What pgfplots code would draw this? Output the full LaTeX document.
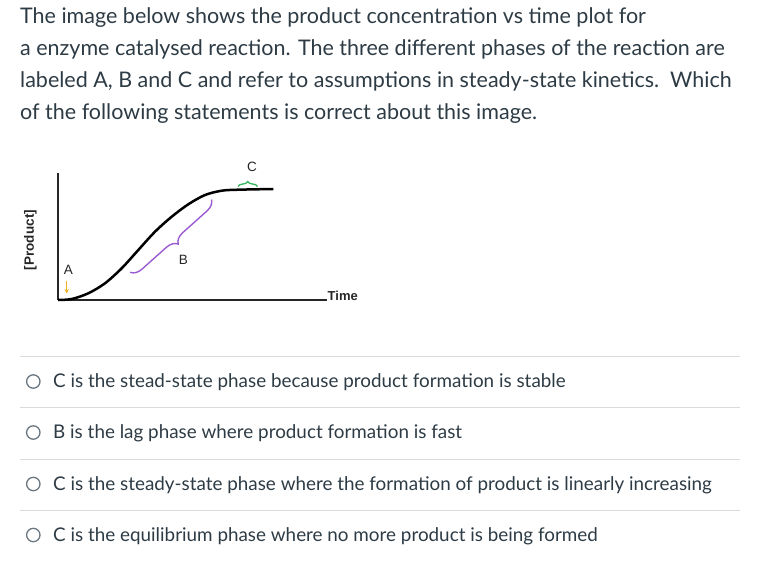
\documentclass[border=0pt]{standalone}
\usepackage{fontspec}
\setmainfont{Lato}
\newfontfamily\arialfont{Liberation Sans}
\usepackage{pgfplots}
\pgfplotsset{compat=1.18}
\usetikzlibrary{decorations.pathreplacing,arrows.meta}
\definecolor{txt}{HTML}{2D3B45}
\definecolor{sep}{HTML}{D9DCDF}
\definecolor{radio}{HTML}{6B7780}
\definecolor{bpurple}{HTML}{9A5BD3}
\definecolor{cgreen}{HTML}{33B35A}
\definecolor{aorange}{HTML}{F2B01E}
\begin{document}
\begin{tikzpicture}[x=1pt,y=1pt]
\path[use as bounding box] (0,0) rectangle (760,-563);
% question text
\begin{scope}[every node/.style={anchor=base west, inner sep=0pt, text=txt, font=\fontsize{21.5}{25}\selectfont}]
\node at (20,-23) {The image below shows the product concentration vs time plot for};
\node at (20,-55) {a enzyme catalysed reaction. The three different phases of the reaction are};
\node at (20,-87) {labeled A, B and C and refer to assumptions in steady-state kinetics.\ \ Which};
\node at (20,-119) {of the following statements is correct about this image.};
\end{scope}
% separators
\foreach \yy in {356,407,459,510} {\draw[sep, line width=1pt] (20,-\yy) -- (740,-\yy);}
% options
\foreach \yy in {381.5,432.5,484,535} {\draw[radio, line width=1.3pt] (33.3,-\yy) circle (6.7);}
\begin{scope}[every node/.style={anchor=base west, inner sep=0pt, text=txt, font=\fontsize{18.85}{22}\selectfont}]
\node at (53,-387) {C is the stead-state phase because product formation is stable};
\node at (53,-438) {B is the lag phase where product formation is fast};
\node at (53,-490) {C is the steady-state phase where the formation of product is linearly increasing};
\node at (53,-541) {C is the equilibrium phase where no more product is being formed};
\end{scope}
% plot
\begin{axis}[at={(58,-300)}, anchor=origin, x=1pt, y=1pt,
  xmin=0, xmax=269, ymin=0, ymax=127,
  axis lines=left, axis line style={-, draw=black!85, line width=1.4pt},
  xtick=\empty, ytick=\empty, clip=false]
\addplot[smooth, black, line width=2.5pt, tension=0.5] coordinates {
(0,0) (13.7,1) (30.3,6.7) (47,16.7) (63.7,31.7) (80.3,50) (97,68.3) (113.7,83.3) (130.3,95.7) (147,105) (163.7,109.3) (180.3,110.3) (215.3,111)};
\draw[bpurple, line width=1.4pt, decorate, decoration={brace, amplitude=11pt}] (axis cs:153.5,100.5) -- (axis cs:72,27.5);
\draw[cgreen, line width=1.3pt, decorate, decoration={brace, amplitude=5pt}] (axis cs:180,113.5) -- (axis cs:199.5,113.5);
\draw[aorange, line width=1pt, -{Stealth[length=4.5pt,width=4.5pt]}] (axis cs:8.7,19) -- (axis cs:8.7,6.5);
\node[font=\arialfont\fontsize{13.5}{14}\selectfont, text=black!85] at (axis cs:10.3,30) {A};
\node[font=\arialfont\fontsize{13.5}{14}\selectfont, text=black!85] at (axis cs:125.3,40) {B};
\node[font=\arialfont\fontsize{13.5}{14}\selectfont, text=black!85] at (axis cs:194,133) {C};
\node[anchor=base west, inner sep=0.5pt, font=\arialfont\bfseries\fontsize{13}{14}\selectfont, text=black!85] at (axis cs:269,0) {Time};
\node[rotate=90, font=\arialfont\bfseries\fontsize{13.5}{14}\selectfont, text=black!85] at (axis cs:-27.5,60) {[Product]};
\end{axis}
\end{tikzpicture}
\end{document}
